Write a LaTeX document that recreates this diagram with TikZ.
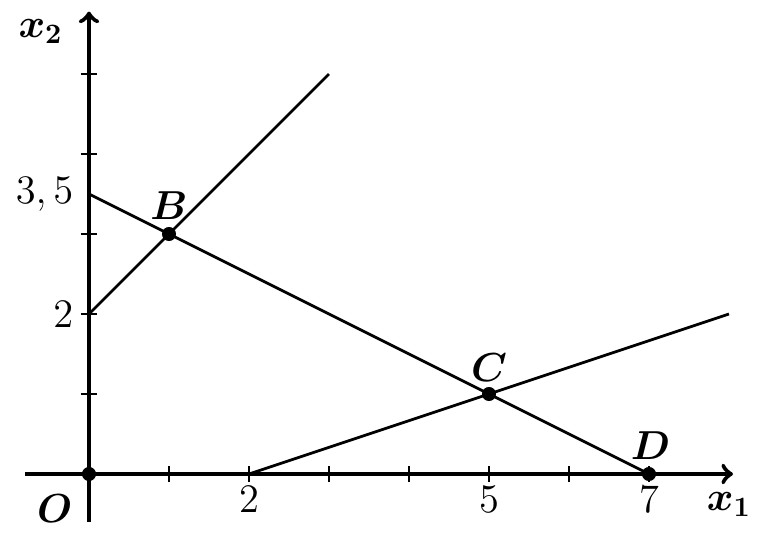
\documentclass[tikz,border=0pt]{standalone}
\usepackage{amsmath}
\usepackage{amssymb}
\usepackage{bm}
\usetikzlibrary{arrows,positioning,calc}
\tikzstyle{Axis} = [->, >=to, line width=1.6pt]
\tikzstyle{Line} = [line width=1pt]
\tikzstyle{Tick} = [line width=0.4pt]
\tikzstyle{Point} = [circle, fill=black, inner sep=0pt, minimum size=5pt]
\tikzstyle{Label} = [font=\Large, inner sep=2pt]

\begin{document}
\begin{tikzpicture}
        \useasboundingbox (-1.1125,-0.7625) rectangle (8.4875,5.925);

        %%%%% Axes %%%%%

        \coordinate (xs) at (-0.8,0);
        \coordinate (xe) at (8.05,0);
        \coordinate (ys) at (0,-0.6);
        \coordinate (ye) at (0,5.78);
        \draw [Axis] (xs) -- (xe);
        \draw [Axis] (ys) -- (ye);

        \foreach \i in {1,...,7} \draw [Tick] (\i,-0.1) -- (\i,0.1);
        \foreach \i in {1,...,5} \draw [Tick] (-0.1,\i) -- (0.1,\i);

        \node[Label, anchor=east] at ($(ye)+(-0.25,-0.25)$) (lx2) {$\bm{x_2}$};
        \node[Label, anchor=north] at ($(xe)+(-0.05,-0.15)$) (lx1) {$\bm{x_1}$};

        \node[Label, below] at (2,-0.08) (n2) {$2$};
        \node[Label, below] at (5,-0.08) (n5) {$5$};
        \node[Label, below] at (7,-0.08) (n7) {$7$};
        \node[Label, left] at (-0.12,3.5) (n35) {$3,5$};
        \node[Label, left] at (-0.12,2) (ny2) {$2$};

        %%%%% Lines %%%%%

        \coordinate (a1) at (0,2);
        \coordinate (a2) at (3,5);
        \coordinate (b1) at (0,3.5);
        \coordinate (b2) at (7,0);
        \coordinate (c1) at (2,0);
        \coordinate (c2) at (8,2);

        \draw [Line] (a1) -- (a2);
        \draw [Line] (b1) -- (b2);
        \draw [Line] (c1) -- (c2);

        %%%%% Points %%%%%

        \node[Point] at (0,0) (O) {};
        \node[Point] at (1,3) (B) {};
        \node[Point] at (5,1) (C) {};
        \node[Point] at (7,0) (D) {};

        \node[Label] at ($(O)+(-0.43,-0.43)$) (lO) {$\bm{O}$};
        \node[Label] at ($(B)+(0,0.35)$) (lB) {$\bm{B}$};
        \node[Label] at ($(C)+(0,0.33)$) (lC) {$\bm{C}$};
        \node[Label] at ($(D)+(0.02,0.36)$) (lD) {$\bm{D}$};

\end{tikzpicture}
\end{document}
